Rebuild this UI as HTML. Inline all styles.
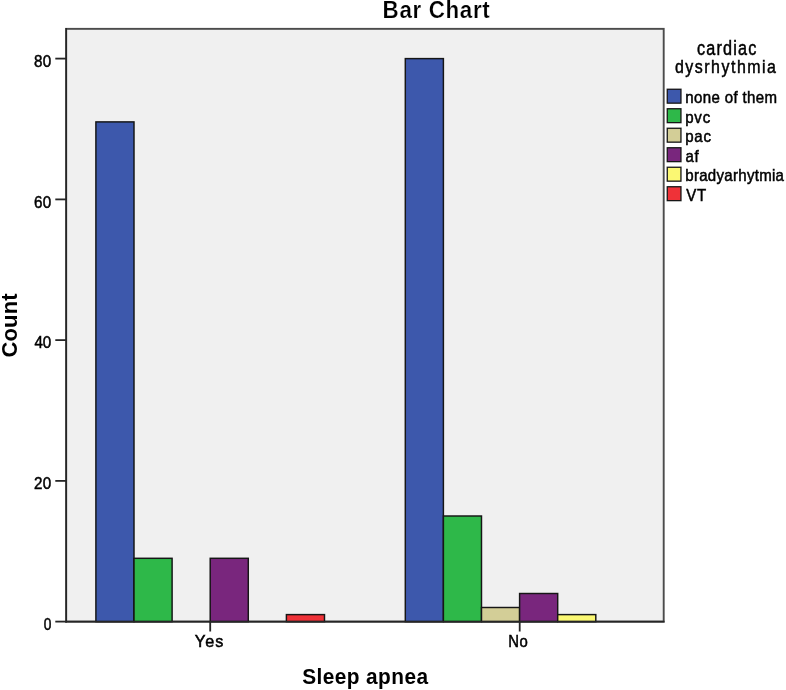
<!DOCTYPE html>
<html><head><meta charset="utf-8"><title>Bar Chart</title>
<style>html,body{margin:0;padding:0;background:#fff}svg{display:block}text{font-family:"Liberation Sans",Arial,sans-serif;fill:#000}</style></head><body>
<svg width="786" height="690" viewBox="0 0 786 690">
<defs><filter id="soft" x="0" y="0" width="786" height="690" filterUnits="userSpaceOnUse"><feGaussianBlur stdDeviation="0.45"/></filter></defs>
<rect x="0" y="0" width="786" height="690" fill="#ffffff"/>
<g filter="url(#soft)">
<rect x="66.2" y="28.85" width="597.5" height="592.8" fill="#F0F0F0" stroke="#4c4c4c" stroke-width="1.9"/>
<rect x="95.9" y="121.9" width="38.1" height="499.7" fill="#3E58AC" stroke="#141414" stroke-width="1.45"/>
<rect x="134.0" y="558.3" width="38.1" height="63.3" fill="#2EB848" stroke="#141414" stroke-width="1.45"/>
<rect x="210.2" y="558.3" width="38.1" height="63.3" fill="#79287D" stroke="#141414" stroke-width="1.45"/>
<rect x="286.4" y="614.6" width="38.1" height="7.0" fill="#EF3338" stroke="#141414" stroke-width="1.45"/>
<rect x="405.3" y="58.6" width="38.1" height="563.0" fill="#3E58AC" stroke="#141414" stroke-width="1.45"/>
<rect x="443.4" y="516.0" width="38.1" height="105.6" fill="#2EB848" stroke="#141414" stroke-width="1.45"/>
<rect x="481.5" y="607.5" width="38.1" height="14.1" fill="#D3CE97" stroke="#141414" stroke-width="1.45"/>
<rect x="519.6" y="593.5" width="38.1" height="28.1" fill="#79287D" stroke="#141414" stroke-width="1.45"/>
<rect x="557.7" y="614.6" width="38.1" height="7.0" fill="#FBF873" stroke="#141414" stroke-width="1.45"/>
<line x1="66.2" y1="28.05" x2="66.2" y2="622.4" stroke="#262626" stroke-width="1.6"/>
<line x1="65.4" y1="621.6" x2="664.5" y2="621.6" stroke="#262626" stroke-width="1.6"/>
<line x1="55.3" y1="621.6" x2="66.2" y2="621.6" stroke="#262626" stroke-width="1.8"/>
<line x1="55.3" y1="480.9" x2="66.2" y2="480.9" stroke="#262626" stroke-width="1.8"/>
<line x1="55.3" y1="340.1" x2="66.2" y2="340.1" stroke="#262626" stroke-width="1.8"/>
<line x1="55.3" y1="199.4" x2="66.2" y2="199.4" stroke="#262626" stroke-width="1.8"/>
<line x1="55.3" y1="58.6" x2="66.2" y2="58.6" stroke="#262626" stroke-width="1.8"/>
<line x1="210.2" y1="621.6" x2="210.2" y2="631.5" stroke="#262626" stroke-width="1.8"/>
<line x1="519.7" y1="621.6" x2="519.7" y2="631.5" stroke="#262626" stroke-width="1.8"/>
<rect x="667.25" y="89.25" width="13.7" height="13.9" fill="#3E58AC" stroke="#151515" stroke-width="1.3"/>
<rect x="667.25" y="108.75" width="13.7" height="13.9" fill="#2EB848" stroke="#151515" stroke-width="1.3"/>
<rect x="667.25" y="128.25" width="13.7" height="13.9" fill="#D3CE97" stroke="#151515" stroke-width="1.3"/>
<rect x="667.25" y="147.75" width="13.7" height="13.9" fill="#79287D" stroke="#151515" stroke-width="1.3"/>
<rect x="667.25" y="167.25" width="13.7" height="13.9" fill="#FBF873" stroke="#151515" stroke-width="1.3"/>
<rect x="667.25" y="186.75" width="13.7" height="13.9" fill="#EF3338" stroke="#151515" stroke-width="1.3"/>
<text transform="translate(382.60,18.2) scale(0.96,1)" font-size="23.3" font-weight="bold" letter-spacing="0.69" stroke="#fff" stroke-width="0.22">Bar Chart</text>
<text transform="translate(302.15,683.6) scale(0.97,1)" font-size="21.5" font-weight="bold" letter-spacing="0.44">Sleep apnea</text>
<text transform="translate(16.8,357.50) rotate(-90) scale(1.0,1)" font-size="22" font-weight="bold" letter-spacing="0.14">Count</text>
<text transform="translate(43.67,629.9) scale(0.831,1)" font-size="16.5" letter-spacing="0.00" stroke="#000" stroke-width="0.5">0</text>
<text transform="translate(34.00,489.1) scale(0.92,1)" font-size="16.5" letter-spacing="0.33" stroke="#000" stroke-width="0.5">20</text>
<text transform="translate(34.50,348.4) scale(0.92,1)" font-size="16.5" letter-spacing="-0.22" stroke="#000" stroke-width="0.5">40</text>
<text transform="translate(34.00,207.6) scale(0.92,1)" font-size="16.5" letter-spacing="0.33" stroke="#000" stroke-width="0.5">60</text>
<text transform="translate(34.00,66.9) scale(0.92,1)" font-size="16.5" letter-spacing="0.33" stroke="#000" stroke-width="0.5">80</text>
<text transform="translate(194.80,647.1) scale(1.0,1)" font-size="16.2" letter-spacing="1.10" stroke="#000" stroke-width="0.5">Yes</text>
<text transform="translate(508.30,647.2) scale(0.92,1)" font-size="16.2" letter-spacing="0.38" stroke="#000" stroke-width="0.5">No</text>
<text transform="translate(696.90,54.5) scale(0.84,1)" font-size="19.3" letter-spacing="1.43" stroke="#000" stroke-width="0.5">cardiac</text>
<text transform="translate(674.90,73.2) scale(0.84,1)" font-size="19.0" letter-spacing="1.80" stroke="#000" stroke-width="0.5">dysrhythmia</text>
<text transform="translate(685.25,103.0) scale(0.94,1)" font-size="16" letter-spacing="0.39" stroke="#000" stroke-width="0.5">none of them</text>
<text transform="translate(685.25,122.6) scale(0.94,1)" font-size="16" letter-spacing="0.80" stroke="#000" stroke-width="0.5">pvc</text>
<text transform="translate(685.25,142.2) scale(0.94,1)" font-size="16" letter-spacing="0.80" stroke="#000" stroke-width="0.5">pac</text>
<text transform="translate(685.50,161.8) scale(0.94,1)" font-size="16" letter-spacing="0.80" stroke="#000" stroke-width="0.5">af</text>
<text transform="translate(685.25,181.4) scale(0.94,1)" font-size="16" letter-spacing="0.31" stroke="#000" stroke-width="0.5">bradyarhytmia</text>
<text transform="translate(686.25,200.9) scale(0.94,1)" font-size="16" letter-spacing="0.80" stroke="#000" stroke-width="0.5">VT</text>
</g>
</svg></body></html>
